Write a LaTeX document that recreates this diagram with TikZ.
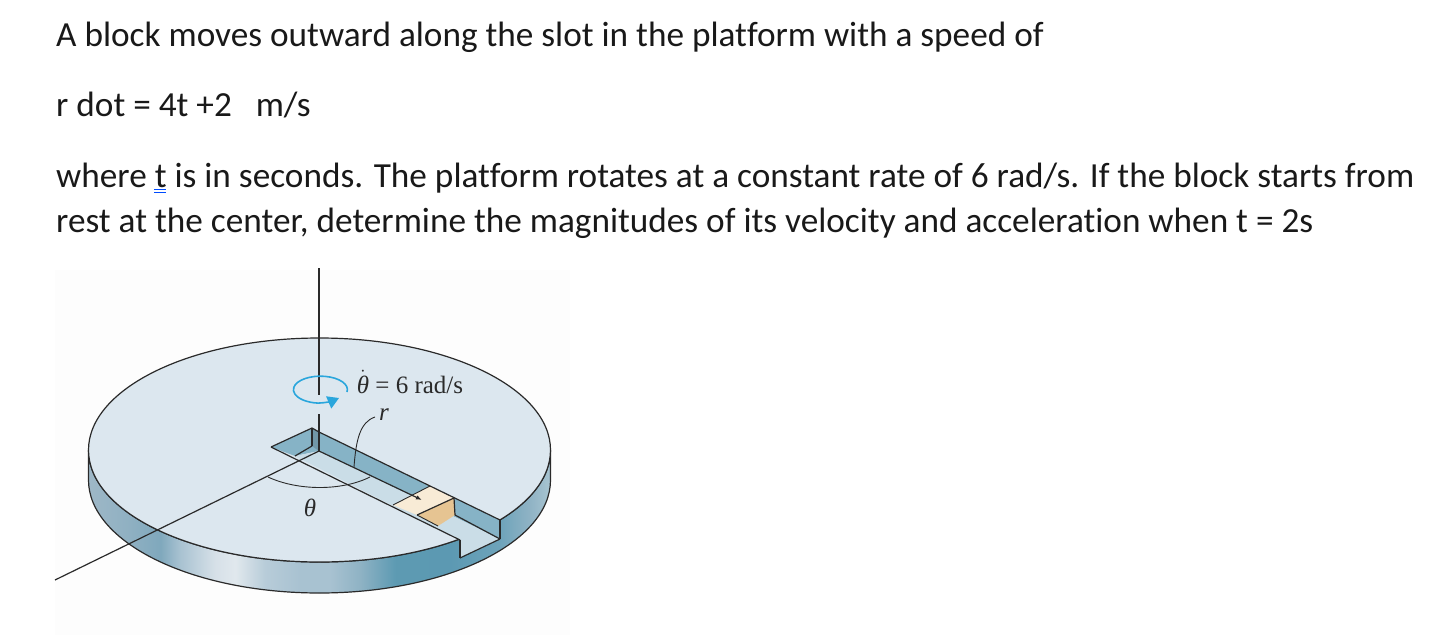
\documentclass[tikz,border=0pt]{standalone}
\usepackage{fontspec}
\setmainfont[Ligatures=NoCommon]{Carlito}
\newfontfamily\figfont{Liberation Serif}
\usepackage{xcolor}
\usetikzlibrary{arrows.meta}
\definecolor{topcol}{HTML}{DCE7EF}
\definecolor{wallcol}{HTML}{86B3C6}
\definecolor{floorcol}{HTML}{CADDE7}
\definecolor{blocktop}{HTML}{F8EBD6}
\definecolor{blockside}{HTML}{E6C492}
\definecolor{spincol}{HTML}{2AA6DC}
\definecolor{edgecol}{HTML}{2A2A2A}
\definecolor{paper}{HTML}{FDFDFD}
\pgfdeclarehorizontalshading{rimshade}{100bp}{
	rgb(0bp)=(.62,.72,.78);
	rgb(25bp)=(.62,.72,.78);
	rgb(29.5bp)=(.56,.69,.76);
	rgb(32.8bp)=(.50,.66,.74);
	rgb(34.9bp)=(.66,.76,.82);
	rgb(38.7bp)=(.84,.88,.91);
	rgb(40.9bp)=(.88,.91,.93);
	rgb(44.1bp)=(.72,.80,.85);
	rgb(47.9bp)=(.66,.76,.82);
	rgb(51.1bp)=(.66,.76,.82);
	rgb(54.4bp)=(.56,.70,.77);
	rgb(58.2bp)=(.365,.605,.70);
	rgb(64.1bp)=(.36,.60,.70);
	rgb(69.5bp)=(.43,.64,.73);
	rgb(72.7bp)=(.56,.70,.77);
	rgb(75bp)=(.66,.77,.82);
	rgb(100bp)=(.66,.77,.82)}

\begin{document}
\begin{tikzpicture}[x=1pt,y=1pt]
	\tikzset{question/.style = {anchor=base west,inner sep=0pt,font=\fontsize{35.25}{35.25}\selectfont,text=black!90}}
	\tikzset{figlabel/.style = {inner sep=0pt,font=\figfont\fontsize{25}{25}\selectfont,text=edgecol}}
	\tikzset{edge/.style = {draw=edgecol,line width=1.2pt,line join=miter}}
	\tikzset{thin edge/.style = {draw=edgecol,line width=0.9pt}}
	\tikzset{spin/.style = {draw=spincol,line width=1.6pt}}
	\tikzset{tipA/.tip={Triangle[angle=60:13pt]}}

	\useasboundingbox (0,0) rectangle (1433,-635);
	\fill[paper] (55,-270) rectangle (570,-635);

	% the text
	\node[question] (lineA) at (56,-46) {A block moves outward along the slot in the platform with a speed of};
	\node[question] (lineB) at (56,-116) {r dot = 4t +2 \ \ m/s};
	\node[question] (lineC) at (56,-187) {where t is in seconds. The platform rotates at a constant rate of 6 rad/s. If the block starts from};
	\node[question] (lineD) at (56,-232) {rest at the center, determine the magnitudes of its velocity and acceleration when t = 2s};
	\draw[blue!70!cyan,line width=0.7pt] (154,-189) -- (166,-189) (154,-192) -- (166,-192);

	% the platform
	\coordinate (C) at (319.5,-450);
	\shade[shading=rimshade,edge] (88.5,-450) arc[start angle=180,end angle=360,x radius=231pt,y radius=112pt]
		-- (550.5,-480) arc[start angle=360,end angle=180,x radius=231pt,y radius=113pt] -- cycle;
	\path[edge,fill=topcol] (C) ellipse[x radius=231pt,y radius=112pt];

	% the slot
	\coordinate (SL) at (271,-447);
	\coordinate (ST) at (312,-428);
	\coordinate (SB) at (319,-432);
	\coordinate (SF) at (319,-451);
	\coordinate (SM) at (312,-446);
	\coordinate (SN) at (295,-456);
	\coordinate (EA) at (500,-520);
	\coordinate (EB) at (500,-539);
	\coordinate (EC) at (460,-540);
	\coordinate (ED) at (460,-558);
	\fill[wallcol] (SL) -- (ST) -- (SB) -- (EA) -- (EB) -- (SF) -- (SN) -- cycle;
	\fill[floorcol] (SN) -- (SF) -- (EB) -- (ED) -- (EC) -- cycle;
	\fill[wallcol!85!black] (ST) -- (SB) -- (SF) -- (SM) -- cycle;

	% the block
	\coordinate (BA) at (393,-505);
	\coordinate (BB) at (430,-486);
	\coordinate (BC) at (454,-498);
	\coordinate (BD) at (417,-515);
	\coordinate (BE) at (455,-515);
	\coordinate (BF) at (438,-526);
	\coordinate (BH) at (422,-500);
	\fill[blocktop] (BA) -- (BB) -- (BC) -- (BD) -- cycle;
	\fill[blockside] (BD) -- (BC) -- (BE) -- (BF) -- cycle;

	\foreach \from/\to in {SL/ST, ST/SB, SB/EA, EA/EB, EB/ED, ED/EC, EC/SL, BE/EB, SN/SM, BD/BC, BC/BE, ST/SM, SB/SF}
	\path[edge](\from) edge (\to);
	\draw[thin edge] (BA) -- (BB);
	\draw[thin edge] (BD) -- (BF);
	\draw[edge,-{Latex[length=6pt]}] (SF) -- (BH);

	% the angle and the distance
	\draw[thin edge] (268,-477) .. controls (298,-491) and (342,-491) .. (370,-477);
	\draw[thin edge] (354,-467) .. controls (356,-440) and (360,-422) .. (375,-417);

	% the axes
	\coordinate (AT) at (319,-268);
	\coordinate (AM) at (319,-395);
	\coordinate (AN) at (319,-414);
	\coordinate (AO) at (55,-580);
	\draw[topcol,line width=2.5pt] (319,-335) -- (319,-342);
	\draw[edge] (AT) -- (AM);
	\draw[edge] (AN) -- (SB);
	\draw[edge] (AO) -- (SF);

	% the rotation
	\draw[spin,-tipA] (347,-392) arc[start angle=-10,end angle=265,x radius=27pt,y radius=13.5pt]
		.. controls (325,-403) and (332,-401) .. (339,-398);

	% the labels
	\node[figlabel] (rate) at (410,-382) {$\dot{\hbox{\itshape θ}}$ = 6 rad/s};
	\node[figlabel] (rname) at (384,-415) {\itshape r};
	\node[figlabel] (thetaname) at (310,-508) {\itshape θ};
\end{tikzpicture}
\end{document}
